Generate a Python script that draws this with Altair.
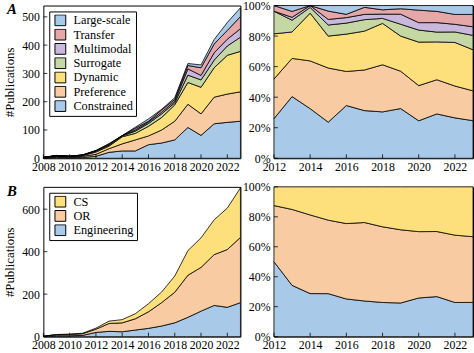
import altair as alt
import pandas as pd

years = list(range(2008, 2024))

# Panel A (by topic), stacked bottom -> top
constrained = [1, 3, 2, 3, 7, 21, 26, 26, 48, 54, 65, 109, 81, 122, 127, 131]
preference = [1, 3, 2, 4, 7, 13, 25, 39, 31, 46, 66, 82, 76, 94, 100, 104]
dynamic = [1, 2, 2, 3, 8, 9, 25, 23, 34, 44, 58, 77, 94, 104, 137, 143]
surrogate = [0, 1, 1, 1, 4, 4, 3, 8, 10, 13, 7, 26, 26, 27, 33, 50]
multimodal = [0, 0, 0, 0, 0, 1, 1, 4, 5, 6, 6, 22, 16, 26, 24, 30]
transfer = [0, 1, 0, 1, 1, 2, 0, 6, 3, 8, 6, 12, 27, 31, 31, 43]
large_scale = [0, 0, 0, 0, 0, 2, 0, 4, 8, 2, 6, 7, 10, 16, 28, 31]

a_names = ["Constrained", "Preference", "Dynamic", "Surrogate", "Multimodal", "Transfer", "Large-scale"]
a_series = [constrained, preference, dynamic, surrogate, multimodal, transfer, large_scale]
a_colors = ["#a9c9e8", "#f8cba2", "#fde07c", "#c5d7a3", "#c9b8dc", "#e6a7a8", "#a9c9e8"]

# Panel B (by field)
engineering = [1, 4, 4, 6, 20, 25, 23, 31, 39, 50, 65, 91, 120, 147, 138, 160]
operations_research = [1, 5, 6, 8, 15, 37, 42, 53, 78, 110, 144, 198, 206, 239, 272, 307]
computer_science = [0, 1, 2, 2, 5, 11, 15, 24, 38, 50, 76, 116, 139, 164, 195, 233]

b_names = ["Engineering", "OR", "CS"]
b_series = [engineering, operations_research, computer_science]
b_colors = ["#a9c9e8", "#f8cba2", "#fde07c"]

left_xticks = [2008, 2010, 2012, 2014, 2016, 2018, 2020, 2022]
right_xticks = [2012, 2014, 2016, 2018, 2020, 2022]
a_yticks = [0, 100, 200, 300, 400, 500]
b_yticks = [0, 200, 400, 600]
pct_ticks = [0, 0.2, 0.4, 0.6, 0.8, 1.0]

FONT = "Liberation Serif"
FS = 12
WL, WR = 200, 202


def make_df(names, series, start):
    rows = []
    for i, (n, s) in enumerate(zip(names, series)):
        for y, v in zip(years, s):
            if y >= start:
                rows.append({"year": y, "count": v, "cat": n, "idx": i})
    return pd.DataFrame(rows)


def x_axis(vals):
    return alt.Axis(values=vals, format="d", title=None, ticks=False, grid=False, domain=False,
                    labelPadding=3, labelFlush=False, labelOverlap=False, labelFont=FONT,
                    labelFontSize=FS, labelColor="black")


def y_axis(vals, title=None, fmt=None):
    kw = dict(values=vals, ticks=False, grid=False, domain=False, labelPadding=4,
              labelOverlap=False, labelFont=FONT, labelFontSize=FS, labelColor="black")
    if fmt:
        kw["format"] = fmt
    if title:
        kw.update(title=title, titleFont=FONT, titleFontSize=13, titleFontWeight="normal",
                  titleColor="black", titlePadding=5)
    else:
        kw["title"] = None
    return alt.Axis(**kw)


def tick_layers(xticks, yticks, H, xs, ys, xa, ya):
    xt = alt.Chart(pd.DataFrame({"year": xticks})).mark_rule(color="black", strokeWidth=0.8).encode(
        x=alt.X("year:Q", scale=xs, axis=xa), y=alt.value(H), y2=alt.value(H - 4))
    yt = alt.Chart(pd.DataFrame({"count": yticks})).mark_rule(color="black", strokeWidth=0.8).encode(
        y=alt.Y("count:Q", scale=ys, axis=ya), x=alt.value(0), x2=alt.value(4))
    return [xt, yt]


def left_panel(names, series, colors, ymax, yticks, letter, H):
    df = make_df(names, series, 2008)
    dom = list(reversed(names))
    rng = list(reversed(colors))
    xs = alt.Scale(domain=[2008, 2023], nice=False, zero=False)
    ys = alt.Scale(domain=[0, ymax], nice=False)
    xa = x_axis(left_xticks)
    ya = y_axis(yticks, title="#Publications")
    area = alt.Chart(df).mark_area(stroke="black", strokeWidth=0.8, opacity=1, strokeJoin="round").encode(
        x=alt.X("year:Q", scale=xs, axis=xa),
        y=alt.Y("count:Q", stack="zero", scale=ys, axis=ya),
        color=alt.Color("cat:N", scale=alt.Scale(domain=dom, range=rng),
                        legend=alt.Legend(title=None, orient="top-left", offset=6,
                                          padding=3, strokeColor="black", fillColor="white",
                                          labelFont=FONT, labelFontSize=12.5, labelColor="black",
                                          symbolType="square", symbolSize=120, clipHeight=12,
                                          symbolStrokeColor="black", symbolStrokeWidth=1,
                                          symbolOpacity=1, rowPadding=1.5, labelOffset=7,
                                          symbolOffset=2)),
        order=alt.Order("idx:Q", sort="ascending"),
    )
    lt = alt.Chart(pd.DataFrame({"t": [letter]})).mark_text(
        font=FONT, fontSize=15, fontWeight="bold", fontStyle="italic", align="left", baseline="top",
        color="black").encode(text="t:N", x=alt.value(-37), y=alt.value(-3))
    return alt.layer(area, *tick_layers(left_xticks, yticks, H, xs, ys, xa, ya), lt).properties(
        width=WL, height=H)


def right_panel(names, series, colors, H):
    df = make_df(names, series, 2012)
    dom = list(reversed(names))
    rng = list(reversed(colors))
    xs = alt.Scale(domain=[2012, 2023], nice=False, zero=False)
    ys = alt.Scale(domain=[0, 1], nice=False)
    xa = x_axis(right_xticks)
    ya = y_axis(pct_ticks, fmt=".0%")
    area = alt.Chart(df).mark_area(stroke="black", strokeWidth=0.8, opacity=1, strokeJoin="round").encode(
        x=alt.X("year:Q", scale=xs, axis=xa),
        y=alt.Y("count:Q", stack="normalize", scale=ys, axis=ya),
        color=alt.Color("cat:N", scale=alt.Scale(domain=dom, range=rng), legend=None),
        order=alt.Order("idx:Q", sort="ascending"),
    )
    return alt.layer(area, *tick_layers(right_xticks, pct_ticks, H, xs, ys, xa, ya)).properties(
        width=WR, height=H)


HA, HB = 155, 152
row_a = alt.hconcat(
    left_panel(a_names, a_series, a_colors, 540, a_yticks, "A", HA),
    right_panel(a_names, a_series, a_colors, HA),
    spacing=0,
).resolve_scale(color="shared")
row_b = alt.hconcat(
    left_panel(b_names, b_series, b_colors, 705, b_yticks, "B", HB),
    right_panel(b_names, b_series, b_colors, HB),
    spacing=0,
).resolve_scale(color="shared")

chart = alt.vconcat(row_a, row_b, spacing=7).resolve_scale(color="independent").properties(
    padding={"left": 3, "top": -4, "right": 0, "bottom": 0}
).configure_view(stroke="black", strokeWidth=1).configure_axis(
    labelFont=FONT, labelFontSize=FS, labelColor="black", titleFont=FONT, titleFontSize=13,
    titleFontWeight="normal", titleColor="black"
).configure_legend(labelFont=FONT).configure_text(font=FONT)

chart.save("out.html", embed_options={"renderer": "svg", "actions": False})
